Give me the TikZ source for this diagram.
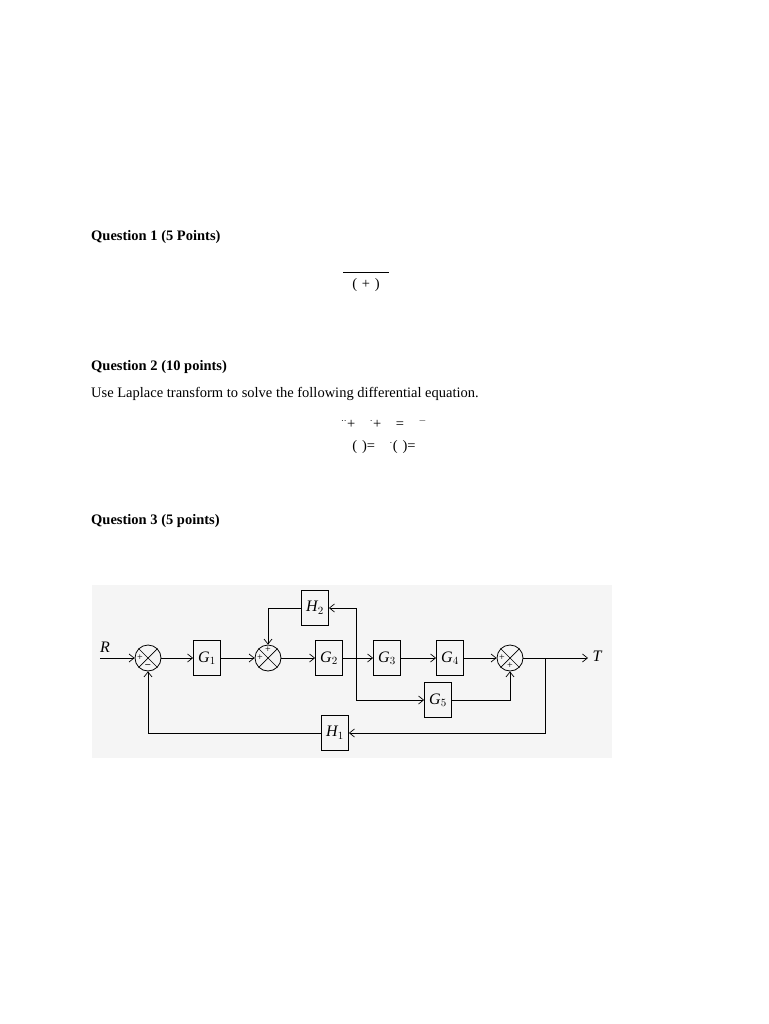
\documentclass[tikz,border=0pt]{standalone}
\usepackage{fontspec}
\setmainfont{Liberation Serif}
\usetikzlibrary{arrows.meta}
\begin{document}
\begin{tikzpicture}[x=1pt,y=-1pt,
  blk/.style={draw,line width=0.8pt,minimum width=27pt,minimum height=35pt,inner sep=0pt,font=\fontsize{16}{16}\selectfont\itshape},
  sumj/.style={draw,circle,line width=0.8pt,minimum size=26pt,inner sep=0pt},
  sg/.style={font=\fontsize{10}{10}\selectfont,inner sep=0pt},
  ln/.style={line width=0.7pt},
  ar/.style={line width=0.7pt,-{Straight Barb[length=5pt,width=8pt]}},
  q/.style={anchor=west,font=\fontsize{14.5}{14.5}\selectfont\bfseries,inner sep=0pt},
  tx/.style={font=\fontsize{14.5}{14.5}\selectfont,inner sep=0pt}]
\useasboundingbox[fill=white] (0,0) rectangle (768,1024);
\fill[gray!8] (92,585) rectangle (612,758);
\node[q] (q1) at (91,237) {Question 1 (5 Points)};
\node[tx] (e1) at (366,285) {(\,\,+\,\,)};
\draw[line width=0.5pt] (343,272) -- (389,272);
\node[q] (q2) at (91,367) {Question 2 (10 points)};
\node[tx,anchor=west] (l2) at (91,394) {Use Laplace transform to solve the following differential equation.};
\node[tx] (e2) at (384,423) {$^{\cdot\cdot}$+\quad$^{\cdot}$+\quad=\quad$^{-}$};
\node[tx] (e3) at (384,447) {(\,\,)=\quad$^{\cdot}$(\,\,)=};
\node[q] (q3) at (91,521) {Question 3 (5 points)};
% diagram
\node[sumj] (s1) at (148,658) {};
\node[sumj] (s2) at (268,658) {};
\node[sumj] (s3) at (510,658) {};
\foreach \s in {s1,s2,s3}{
 \draw[ln] (\s.north west) -- (\s.south east);
 \draw[ln] (\s.north east) -- (\s.south west);}
\node[sg] at (140,658) {+};
\node[sg] at (148,666) {\textbf{--}};
\node[sg] at (260,658) {+};
\node[sg] at (268,650) {+};
\node[sg] at (502,658) {+};
\node[sg] at (510,666) {+};
\node[blk] (g1) at (207,658) {G$_1$};
\node[blk] (g2) at (329,658) {G$_2$};
\node[blk] (g3) at (387,658) {G$_3$};
\node[blk] (g4) at (450,658) {G$_4$};
\node[blk] (g5) at (438,700) {G$_5$};
\node[blk] (h2) at (315,608) {H$_2$};
\node[blk] (h1) at (335,733) {H$_1$};
\node[font=\fontsize{16}{16}\selectfont\itshape] (r) at (105,647) {R};
\node[font=\fontsize{16}{16}\selectfont\itshape,anchor=west] (t) at (589,656) {T};
\coordinate (rin) at (100,658);
\coordinate (br) at (356,658);
\coordinate (bt) at (545,658);
\coordinate (tend) at (588,658);
\draw[ar] (rin) -- (s1.west);
\draw[ar] (s1.east) -- (g1.west);
\draw[ar] (g1.east) -- (s2.west);
\draw[ar] (s2.east) -- (g2.west);
\draw[ar] (g2.east) -- (g3.west);
\draw[ar] (g3.east) -- (g4.west);
\draw[ar] (g4.east) -- (s3.west);
\draw[ar] (s3.east) -- (tend);
\draw[ar] (br) |- (h2.east);
\draw[ar] (br) |- (g5.west);
\draw[ar] (h2.west) -| (s2.north);
\draw[ar] (g5.east) -| (s3.south);
\draw[ar] (bt) |- (h1.east);
\draw[ar] (h1.west) -| (s1.south);
\end{tikzpicture}
\end{document}
